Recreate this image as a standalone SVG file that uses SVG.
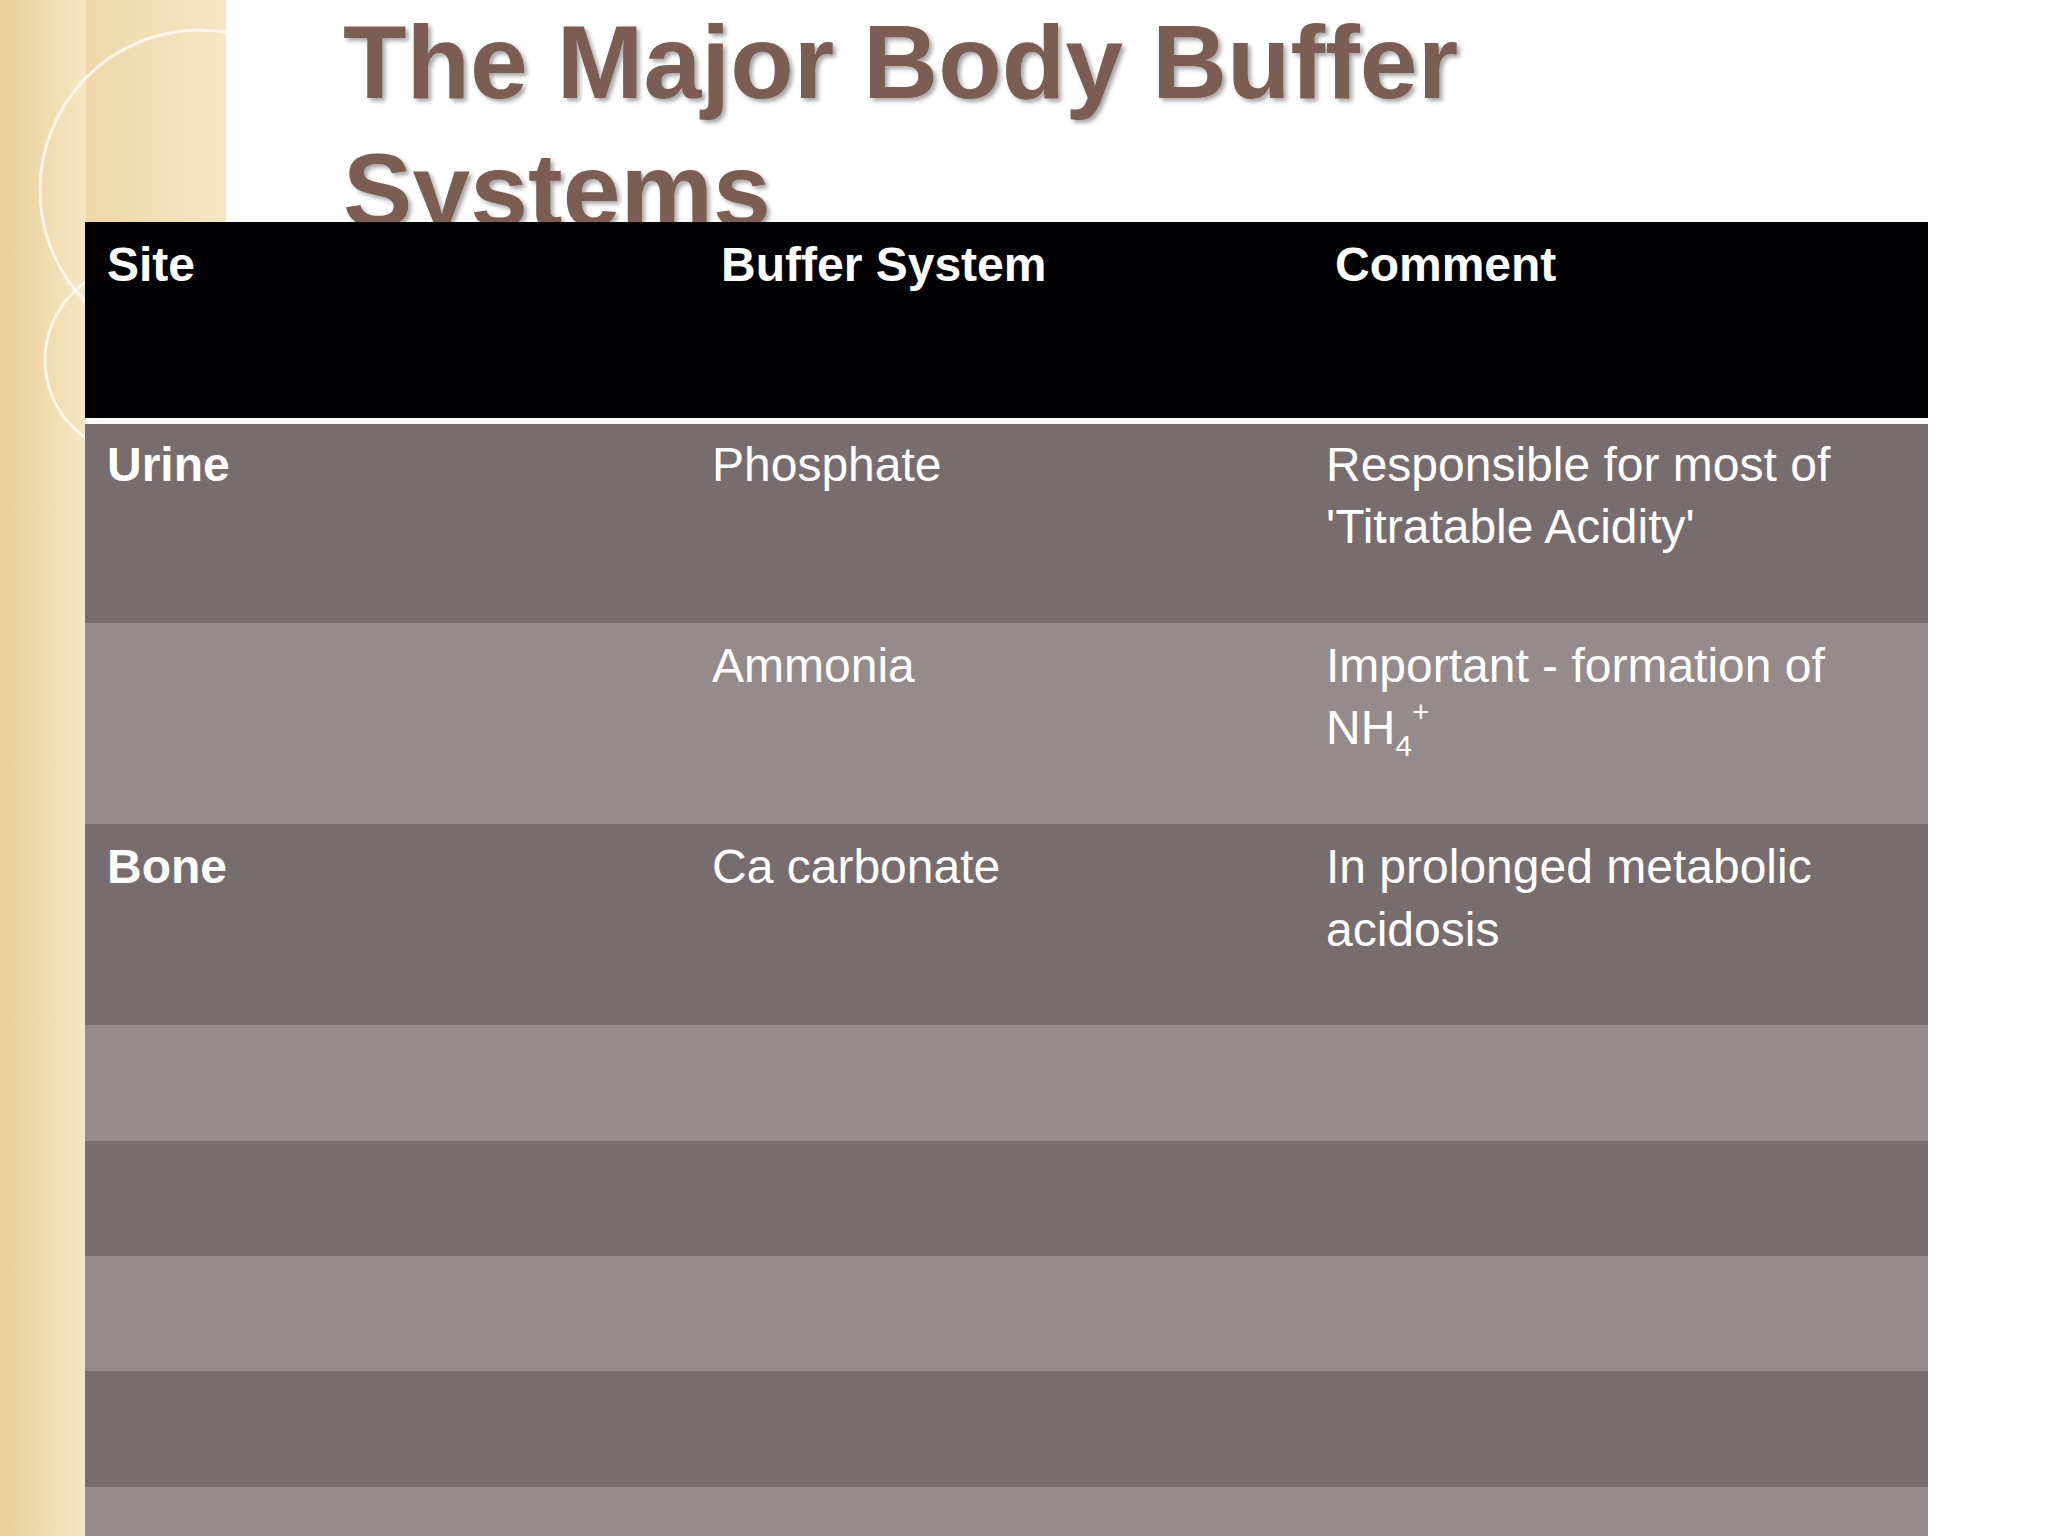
<svg xmlns="http://www.w3.org/2000/svg" width="2048" height="1536" viewBox="0 0 2048 1536">
<defs>
<linearGradient id="strip" x1="0" y1="0" x2="1" y2="0"><stop offset="0" stop-color="#e9cf98"/><stop offset="1" stop-color="#f6e6c4"/></linearGradient>
<filter id="sh"><feDropShadow dx="3" dy="3" stdDeviation="2" flood-color="#000" flood-opacity="0.35"/></filter>
</defs>
<style>
.h{font-family:"Liberation Sans",Arial,sans-serif;font-weight:bold;font-size:48px;fill:#fff}
.c{font-family:"Liberation Sans",Arial,sans-serif;font-size:48px;fill:#fff}
.b{font-family:"Liberation Sans",Arial,sans-serif;font-weight:bold;font-size:48px;fill:#fff}
.d{fill:#776d6e}.l{fill:#958b8c}
</style>
<rect width="2048" height="1536" fill="#fff"/>
<rect x="0" y="0" width="226" height="230" fill="url(#strip)"/>
<rect x="0" y="0" width="86" height="1536" fill="url(#strip)"/>
<circle cx="200" cy="190" r="160" fill="none" stroke="#fff" stroke-width="3" opacity="0.7"/>
<circle cx="140" cy="360" r="95" fill="none" stroke="#fff" stroke-width="3" opacity="0.7"/>
<g id="title" filter="url(#sh)" font-family="Liberation Sans,Arial,sans-serif" font-weight="bold" font-size="104" fill="#7b5d52">
<text x="343" y="98">The Major Body Buffer</text>
<text x="343" y="226">Systems</text>
</g>
<g id="table">
<rect x="85" y="222" width="1843" height="196" fill="#030204"/>
<rect x="85" y="424" width="1843" height="199" class="d"/>
<rect x="85" y="623" width="1843" height="201" class="l"/>
<rect x="85" y="824" width="1843" height="201" class="d"/>
<rect x="85" y="1025" width="1843" height="116" class="l"/>
<rect x="85" y="1141" width="1843" height="115" class="d"/>
<rect x="85" y="1256" width="1843" height="115" class="l"/>
<rect x="85" y="1371" width="1843" height="116" class="d"/>
<rect x="85" y="1487" width="1843" height="49" class="l"/>
<text class="h" x="107" y="281">Site</text>
<text class="h" x="721" y="281">Buffer System</text>
<text class="h" x="1335" y="281">Comment</text>
<text class="b" x="107" y="481">Urine</text>
<text class="c" x="712" y="481">Phosphate</text>
<text class="c" x="1326" y="481">Responsible for most of</text>
<text class="c" x="1326" y="543">'Titratable Acidity'</text>
<text class="c" x="712" y="682">Ammonia</text>
<text class="c" x="1326" y="682">Important - formation of</text>
<text class="c" x="1326" y="744">NH<tspan font-size="30" dy="12">4</tspan><tspan font-size="30" dy="-34">+</tspan></text>
<text class="b" x="107" y="883">Bone</text>
<text class="c" x="712" y="883">Ca carbonate</text>
<text class="c" x="1326" y="883">In prolonged metabolic</text>
<text class="c" x="1326" y="946">acidosis</text>
</g>
</svg>
